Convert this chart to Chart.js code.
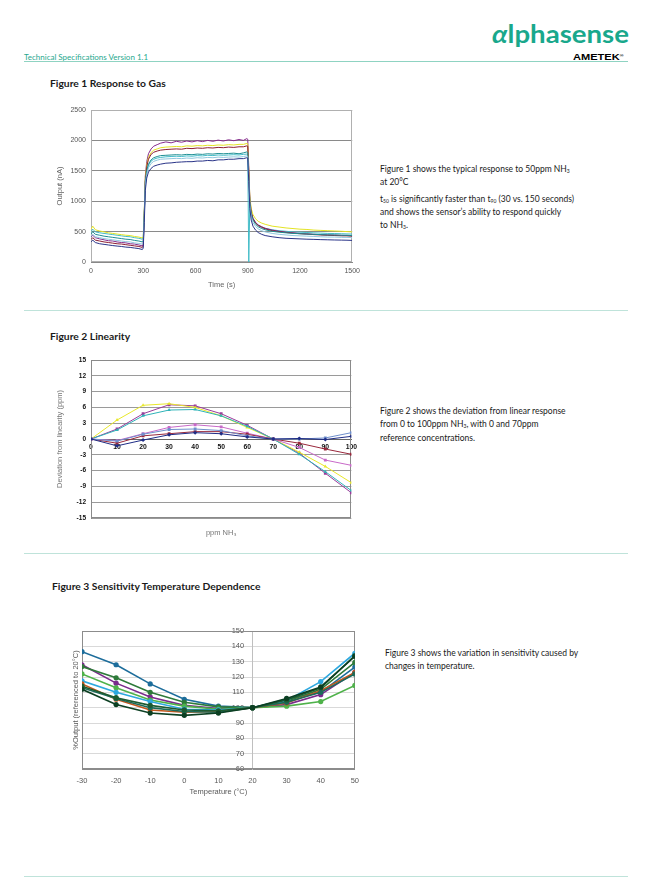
<!DOCTYPE html>
<html>
<head>
<meta charset="utf-8">
<script src="https://cdn.jsdelivr.net/npm/chart.js@4.4.1/dist/chart.umd.min.js"></script>
<style>
  body { margin:0; background:#fff; width:650px; height:882px; position:relative; overflow:hidden;
         font-family: Lato, "Noto Sans", sans-serif; color:#1a1a1a; }
  .rule { position:absolute; left:24px; width:604px; height:1px; background:#bfe3da; }
  .fig { position:absolute; font-weight:700; font-size:10.3px; line-height:12px; white-space:nowrap; }
  .note { position:absolute; font-size:8.5px; line-height:13px; white-space:nowrap; }
  .note p { margin:0 0 3.5px 0; }
  .note sub { font-size:5px; vertical-align:-1px; line-height:0; }
  canvas { position:absolute; }
</style>
</head>
<body>

<div style="position:absolute;left:24px;top:52px;font-size:8px;line-height:10px;color:#1fa88e;white-space:nowrap;">Technical Specifications Version 1.1</div>
<div style="position:absolute;left:492px;top:22px;font-size:24px;line-height:24px;font-weight:700;color:#19a88c;white-space:nowrap;transform:scaleX(1.15);transform-origin:0 0;"><i>α</i>lphasense</div>
<div style="position:absolute;left:573px;top:51px;font-family:'Liberation Sans',sans-serif;font-size:8.5px;line-height:10px;font-weight:700;color:#000;white-space:nowrap;transform:scaleX(1.3);transform-origin:0 0;">AMETEK<span style="font-size:4px;vertical-align:3px;">®</span></div>
<div class="rule" style="top:61px;background:#8fd3c2;"></div>

<div class="fig" style="left:50px;top:77px;">Figure 1 Response to Gas</div>
<canvas id="c1" width="315" height="195" style="left:50px;top:100px;"></canvas>
<div class="note" style="left:380px;top:163px;">
  <p>Figure 1 shows the typical response to 50ppm NH<sub>3</sub><br>at 20°C</p>
  <p>t<sub>50</sub> is significantly faster than t<sub>90</sub> (30 vs. 150 seconds)<br>and shows the sensor’s ability to respond quickly<br>to NH<sub>3</sub>.</p>
</div>
<div class="rule" style="top:310px;"></div>

<div class="fig" style="left:50px;top:330px;">Figure 2 Linearity</div>
<canvas id="c2" width="311" height="195" style="left:50px;top:350px;"></canvas>
<div class="note" style="left:380px;top:405px;line-height:13.3px;">
  <p>Figure 2 shows the deviation from linear response<br>from 0 to 100ppm NH<sub>3</sub>, with 0 and 70ppm<br>reference concentrations.</p>
</div>
<div class="rule" style="top:553px;"></div>

<div class="fig" style="left:52px;top:580px;">Figure 3 Sensitivity Temperature Dependence</div>
<canvas id="c3" width="300" height="180" style="left:66px;top:620px;"></canvas>
<div class="note" style="left:385px;top:647px;line-height:12.5px;">
  <p>Figure 3 shows the variation in sensitivity caused by<br>changes in temperature.</p>
</div>
<div class="rule" style="top:876px;"></div>

<script>
// Figure 1 - response to 50ppm NH3, time in seconds
const time = [0, 10, 25, 50, 75, 100, 125, 150, 175, 200,
  225, 250, 275, 295, 300, 306, 312, 320, 330, 345,
  360, 380, 400, 430, 460, 490, 520, 550, 580, 610,
  640, 670, 700, 730, 760, 790, 820, 850, 875, 895,
  900, 906, 912, 920, 930, 945, 960, 980, 1000, 1040,
  1080, 1120, 1160, 1200, 1240, 1280, 1320, 1360, 1400, 1440,
  1470, 1500];

const outPurple = [410, 440, 400, 380, 365, 350, 345, 330, 320, 315,
  300, 295, 280, 265, 290, 800, 1420, 1650, 1780, 1860,
  1905, 1930, 1955, 1975, 1960, 1985, 1970, 1990, 1975, 1995,
  1980, 2000, 1985, 2005, 1990, 2010, 1995, 2015, 2000, 2030,
  2020, 1550, 1050, 830, 720, 650, 610, 580, 555, 525,
  505, 490, 480, 470, 462, 455, 450, 445, 442, 438,
  435, 432];
const outYellow = [540, 590, 530, 510, 495, 480, 470, 460, 450, 440,
  435, 420, 410, 395, 420, 860, 1400, 1600, 1720, 1800,
  1840, 1860, 1880, 1890, 1895, 1900, 1895, 1910, 1905, 1915,
  1910, 1920, 1915, 1925, 1920, 1930, 1925, 1935, 1935, 1950,
  1945, 1520, 1080, 880, 780, 710, 670, 640, 620, 590,
  575, 560, 550, 540, 535, 525, 520, 515, 510, 505,
  500, 495];
const outRed = [370, 400, 360, 345, 330, 320, 310, 300, 295, 285,
  275, 265, 255, 240, 265, 760, 1340, 1560, 1690, 1770,
  1805, 1825, 1840, 1850, 1855, 1860, 1855, 1870, 1865, 1875,
  1870, 1880, 1875, 1885, 1880, 1890, 1885, 1895, 1895, 1910,
  1905, 1480, 1020, 820, 710, 640, 600, 570, 545, 515,
  500, 485, 475, 465, 460, 450, 445, 440, 435, 430,
  430, 425];
const outTeal = [460, 500, 455, 440, 425, 415, 405, 395, 385, 375,
  370, 355, 345, 330, 355, 800, 1320, 1500, 1610, 1680,
  1715, 1735, 1750, 1755, 1760, 1765, 1760, 1770, 1765, 1775,
  1770, 1780, 1775, 1785, 1780, 1785, 1790, 1780, 1795, 1810,
  1800, 1420, 980, 790, 690, 620, 580, 550, 530, 505,
  490, 480, 470, 465, 460, 455, 450, 445, 445, 440,
  440, 435];
const outCyan = [500, 540, 495, 480, 470, 460, 450, 440, 430, 420,
  415, 400, 390, 375, 395, 820, 1320, 1490, 1590, 1660,
  1690, 1710, 1720, 1730, 1735, 1740, 1735, 1745, 1740, 1750,
  1745, 1755, 1750, 1760, 1755, 1760, 1765, 1760, 1770, 1775,
  1770, 0, 950, 800, 710, 645, 605, 575, 555, 530,
  515, 505, 495, 490, 485, 480, 475, 470, 468, 465,
  462, 460];
const outLightBlue = [420, 455, 415, 400, 385, 375, 365, 355, 345, 335,
  330, 315, 305, 295, 315, 740, 1260, 1440, 1550, 1620,
  1655, 1675, 1690, 1695, 1700, 1705, 1700, 1710, 1705, 1715,
  1710, 1720, 1715, 1725, 1720, 1725, 1730, 1725, 1735, 1745,
  1740, 1360, 930, 750, 650, 585, 545, 515, 495, 470,
  455, 445, 435, 430, 425, 420, 415, 410, 410, 405,
  405, 400];
const outNavy = [330, 360, 320, 300, 290, 280, 270, 262, 255, 245,
  240, 230, 220, 205, 230, 650, 1180, 1380, 1480, 1540,
  1575, 1595, 1610, 1625, 1630, 1640, 1645, 1650, 1650, 1660,
  1660, 1670, 1665, 1680, 1680, 1690, 1690, 1700, 1700, 1715,
  1710, 1320, 880, 690, 590, 525, 485, 455, 435, 415,
  400, 390, 385, 380, 375, 372, 368, 365, 362, 360,
  358, 355];

// Figure 2 - deviation from linearity (ppm)
const ppm = [0, 10, 20, 30, 40, 50, 60, 70, 80, 90, 100];
const devYellow = [0, 3.6, 6.4, 6.7, 6.0, 4.4, 2.2, 0, -2.5, -5.2, -8.3];
const devPurple = [0, 1.9, 4.8, 6.5, 6.3, 4.8, 2.6, 0, -2.7, -6.5, -10.2];
const devTeal = [0, 1.7, 4.4, 5.5, 5.6, 4.4, 2.4, 0, -2.9, -6.2, -9.8];
const devPink = [0, -0.3, 1.0, 2.2, 2.7, 2.3, 1.1, 0, -1.6, -4.0, -5.0];
const devRed = [0, -0.8, 0.6, 1.0, 1.4, 1.4, 0.9, 0, -0.8, -1.9, -2.9];
const devSteel = [0, -0.4, 0.9, 1.8, 1.9, 1.6, 0.6, 0, 0, 0.2, 1.2];
const devNavy = [0, -1.3, -0.2, 0.8, 1.2, 1.0, 0.4, 0, 0.1, -0.1, 0.5];

// Figure 3 - % output referenced to 20C
const temps = [-30, -20, -10, 0, 10, 20, 30, 40, 50];
const tBlue = [136.5, 128, 115.5, 105.5, 101, 100, 105.5, 110, 126.5];
const tPurple = [128, 116, 107, 101.5, 99.5, 100, 102, 108.5, 123];
const tGreen = [126.8, 119.5, 110, 103.5, 100.5, 100, 104, 112, 129.5];
const tLightGreen = [122, 113, 105, 101, 99, 100, 101, 104, 114.5];
const tLightBlue = [117.5, 110, 104, 99, 98.5, 100, 104.5, 117, 135.5];
const tOrange = [115.5, 105.5, 98.5, 97, 97.5, 100, 103, 111, 123];
const tTealGreen = [113, 106, 100, 97.5, 97, 100, 103.5, 110, 122];
const tDarkGreen = [114, 106.5, 101.5, 98.5, 98, 100, 105, 113, 134];
const tDarkest = [112, 102, 96.5, 95, 96.5, 100, 106, 113.5, 133.5];

function pts(xs, ys) {
    return xs.map((x, i) => ({ x: x, y: ys[i] }));
}

// box round the plot area
const frame = {
    id: 'frame',
    beforeDatasetsDraw(chart, args, opts) {
        const a = chart.chartArea;
        const ctx = chart.ctx;
        ctx.save();
        ctx.strokeStyle = opts.color || '#999';
        ctx.lineWidth = 1;
        ctx.strokeRect(Math.round(a.left) + 0.5, Math.round(a.top) + 0.5,
            Math.round(a.right - a.left) - 1, Math.round(a.bottom - a.top) - 1);
        ctx.restore();
    }
};

const arial = 'Liberation Sans, Arial, sans-serif';
const plain = (v) => String(v);
const common = {
    responsive: false,
    animation: false,
    events: [],
};

// Figure 1
new Chart(document.getElementById('c1'), {
    type: 'line',
    data: {
        datasets: [
            { data: pts(time, outNavy), borderColor: '#2a3488' },
            { data: pts(time, outLightBlue), borderColor: '#8fc7de' },
            { data: pts(time, outTeal), borderColor: '#1f8f93' },
            { data: pts(time, outRed), borderColor: '#8c1f34' },
            { data: pts(time, outYellow), borderColor: '#e3e324' },
            { data: pts(time, outPurple), borderColor: '#862c8c' },
            { data: pts(time, outCyan), borderColor: '#43bcc8' }
        ]
    },
    options: Object.assign({}, common, {
        layout: { padding: { top: 10, right: 9 } },
        elements: { point: { radius: 0 }, line: { borderWidth: 1, tension: 0 } },
        plugins: { legend: { display: false }, tooltip: { enabled: false }, frame: { color: '#b0b0b0' } },
        scales: {
            x: {
                type: 'linear', min: 0, max: 1500,
                ticks: { stepSize: 300, padding: 5, color: '#555', font: { family: arial, size: 7 }, callback: plain },
                grid: { display: false, drawTicks: false },
                border: { color: '#888' },
                title: { display: true, text: 'Time (s)', color: '#666', font: { family: arial, size: 7.5 }, padding: { top: 0, bottom: 6 } },
                afterFit: (s) => { s.height = 33; }
            },
            y: {
                min: 0, max: 2500,
                ticks: { stepSize: 500, padding: 5, color: '#555', font: { family: arial, size: 7 }, callback: plain },
                grid: { color: '#8a8a8a', drawTicks: false },
                border: { color: '#888' },
                title: { display: true, text: 'Output (nA)', color: '#666', font: { family: arial, size: 7.5 }, padding: { top: 5, bottom: 0 } },
                afterFit: (s) => { s.width = 41; }
            }
        }
    }),
    plugins: [frame]
});

// Figure 2
function devSet(ys, color, style) {
    return {
        data: pts(ppm, ys), borderColor: color, backgroundColor: color,
        pointStyle: style, pointRadius: 2, pointBorderWidth: 0,
        xAxisID: 'x', yAxisID: 'y'
    };
}
new Chart(document.getElementById('c2'), {
    type: 'line',
    data: {
        datasets: [
            devSet(devNavy, '#1f2d86', 'rectRot'),
            devSet(devSteel, '#6f8fcc', 'rect'),
            devSet(devRed, '#99283c', 'rect'),
            devSet(devPink, '#c86ac8', 'rect'),
            devSet(devTeal, '#2fb3b8', 'triangle'),
            devSet(devYellow, '#e8e82a', 'triangle'),
            devSet(devPurple, '#9a3b9a', 'rect')
        ]
    },
    options: Object.assign({}, common, {
        layout: { padding: { top: 10, right: 9 } },
        elements: { line: { borderWidth: 1, tension: 0 } },
        plugins: { legend: { display: false }, tooltip: { enabled: false }, frame: { color: '#8a8a8a' } },
        scales: {
            x: {
                type: 'linear', min: 0, max: 100, position: { y: 0 },
                ticks: { stepSize: 10, padding: 4, color: '#111', font: { family: arial, size: 6.8, weight: 'bold' } },
                grid: { display: false, drawTicks: false },
                border: { color: '#666' }
            },
            xt: {
                type: 'linear', min: 0, max: 100, position: 'bottom',
                ticks: { display: false },
                grid: { display: false, drawTicks: false },
                border: { display: false },
                title: { display: true, text: 'ppm NH₃', color: '#777', font: { family: arial, size: 7.5 }, padding: { top: 0, bottom: 7.5 } },
                afterFit: (s) => { s.height = 27; }
            },
            y: {
                min: -15, max: 15,
                ticks: { stepSize: 3, padding: 5, color: '#111', font: { family: arial, size: 6.5, weight: 'bold' } },
                grid: { color: '#9a9a9a', drawTicks: false },
                border: { color: '#888' },
                title: { display: true, text: 'Deviation from linearity (ppm)', color: '#777', font: { family: arial, size: 7.5 }, padding: { top: 5, bottom: 0 } },
                afterFit: (s) => { s.width = 41; }
            }
        }
    }),
    plugins: [frame]
});

// Figure 3
function tSet(ys, color) {
    return {
        data: pts(temps, ys), borderColor: color, backgroundColor: color,
        pointRadius: 2.6, pointBorderWidth: 0, borderWidth: 1.6,
        xAxisID: 'x', yAxisID: 'y'
    };
}
new Chart(document.getElementById('c3'), {
    type: 'line',
    data: {
        datasets: [
            tSet(tDarkest, '#0c3f22'),
            tSet(tDarkGreen, '#1d5b31'),
            tSet(tTealGreen, '#1c6b5a'),
            tSet(tOrange, '#c2571d'),
            tSet(tLightBlue, '#2ea8df'),
            tSet(tLightGreen, '#4fb24a'),
            tSet(tGreen, '#2e7a3a'),
            tSet(tPurple, '#7a2b8c'),
            tSet(tBlue, '#1d6d9b')
        ]
    },
    options: Object.assign({}, common, {
        layout: { padding: { top: 11, right: 8 } },
        elements: { line: { tension: 0 } },
        plugins: { legend: { display: false }, tooltip: { enabled: false }, frame: { color: '#8c8c8c' } },
        scales: {
            x: {
                type: 'linear', min: -30, max: 50,
                ticks: { stepSize: 10, padding: 7, color: '#595959', font: { family: arial, size: 7.5 } },
                grid: { display: false, drawTicks: false },
                border: { color: '#8c8c8c' },
                title: { display: true, text: 'Temperature (°C)', color: '#595959', font: { family: arial, size: 7.5 }, padding: { top: 0, bottom: 3.5 } },
                afterFit: (s) => { s.height = 31; }
            },
            y: {
                min: 60, max: 150, position: { x: 20 },
                ticks: { stepSize: 10, padding: 3, color: '#595959', font: { family: arial, size: 7.5 }, callback: (v) => v + '    ' },
                grid: { color: '#d9d9d9', drawTicks: false },
                border: { color: '#bfbfbf' }
            },
            y2: {
                type: 'linear', min: 0, max: 1, position: 'left',
                ticks: { display: false },
                grid: { display: false, drawTicks: false },
                border: { display: false },
                title: { display: true, text: '%Output (referenced to 20°C)', color: '#595959', font: { family: arial, size: 7.5 }, padding: { top: 5.5, bottom: 0 } },
                afterFit: (s) => { s.width = 16; }
            }
        }
    }),
    plugins: [frame]
});
</script>
</body>
</html>
